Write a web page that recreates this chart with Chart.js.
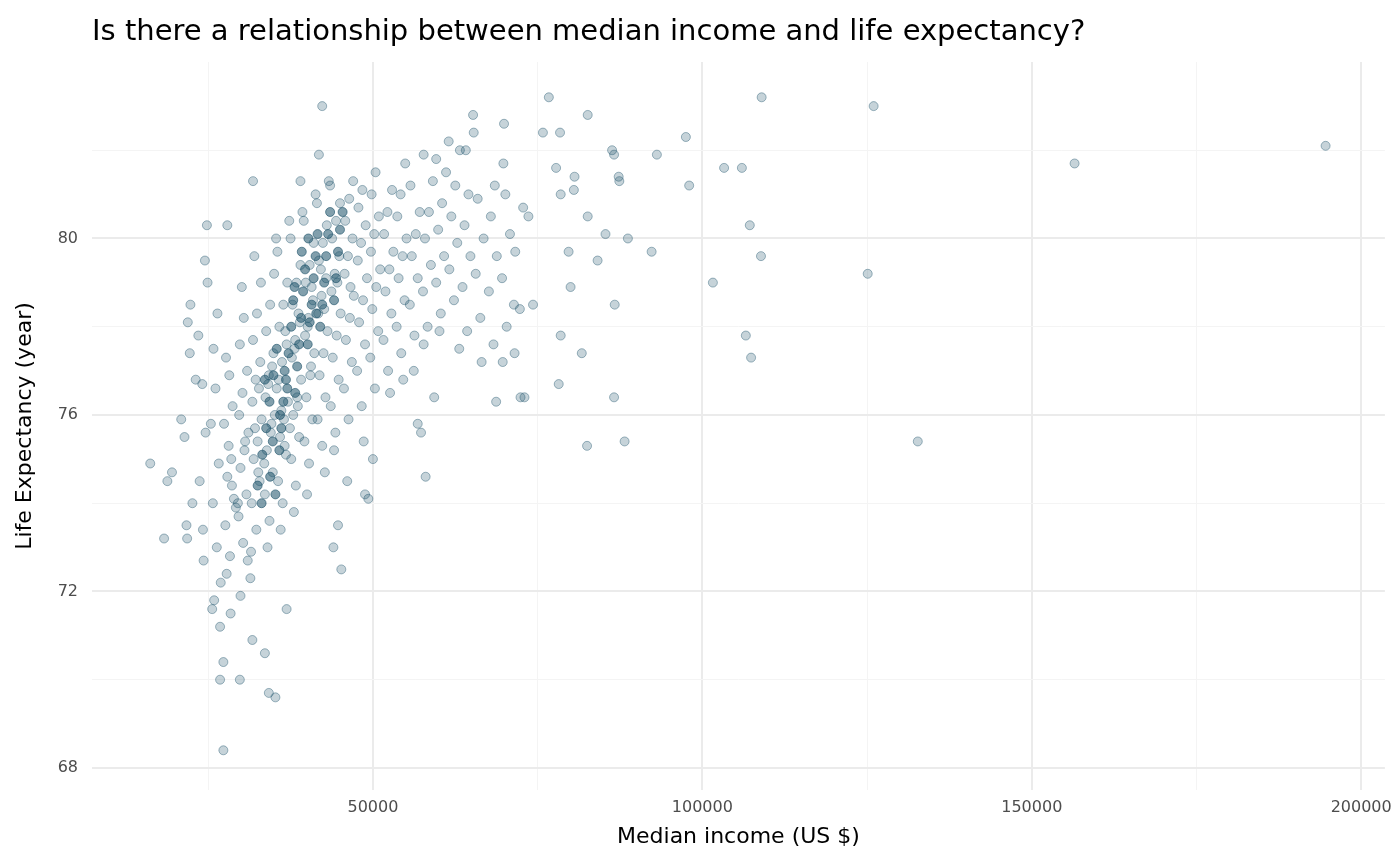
<!DOCTYPE html>
<html>
<head>
<meta charset="utf-8">
<script src="https://cdn.jsdelivr.net/npm/chart.js@4"></script>
<style>
  body { margin: 0; background: #fff; }
  #wrap { width: 1400px; height: 866px; }
</style>
</head>
<body>
<div id="wrap"><canvas id="c"></canvas></div>
<script>
// values: [median income, life expectancy]
var outlierPoints = [
  [194600, 82.1], [156500, 81.7], [126000, 83.0], [125100, 79.2], [132700, 75.4],
  [109000, 83.2], [108900, 79.6], [107200, 80.3], [106000, 81.6], [103300, 81.6],
  [106600, 77.8], [107400, 77.3], [101600, 79.0], [97500, 82.3], [98000, 81.2],
  [93100, 81.9], [92300, 79.7], [88700, 80.0], [88200, 75.4], [86600, 76.4],
  [86700, 78.5], [87300, 81.4], [87400, 81.3], [86300, 82.0], [86600, 81.9],
  [82600, 82.8], [76700, 83.2], [82500, 75.3], [81700, 77.4], [82600, 80.5],
  [84100, 79.5], [85300, 80.1], [78200, 76.7], [78500, 77.8], [80000, 78.9],
  [80600, 81.4], [80500, 81.1], [79700, 79.7], [78400, 82.4], [75800, 82.4],
  [77800, 81.6], [78500, 81.0], [69900, 82.6], [69800, 81.7], [69700, 77.2],
  [68700, 76.3], [73000, 76.4], [72400, 76.4], [71500, 77.4], [71400, 78.5],
  [65200, 82.8], [63200, 82.0], [65300, 82.4], [61500, 82.2], [58000, 74.6],
  [57300, 75.6], [56800, 75.8], [59300, 76.4], [57700, 81.9], [59600, 81.8]
];
var lowIncomePoints = [
  [16200, 74.9], [18300, 73.2], [19500, 74.7], [18800, 74.5], [21700, 73.5],
  [22200, 77.4], [20900, 75.9], [21900, 78.1], [24500, 79.5], [24800, 80.3],
  [26800, 70.0], [27300, 68.4], [27300, 70.4], [29800, 70.0], [34200, 69.7],
  [35200, 69.6], [36900, 71.6], [33600, 70.6], [31700, 70.9], [25900, 71.8],
  [26800, 71.2], [27900, 80.3], [31800, 81.3], [42300, 83.0], [41800, 81.9],
  [39000, 81.3], [45200, 72.5], [44000, 73.0], [48800, 74.2], [22600, 74.0],
  [21400, 75.5], [23100, 76.8], [22300, 78.5], [21800, 73.2], [24200, 73.4],
  [23700, 74.5], [24600, 75.6], [24100, 76.7], [23500, 77.8], [24900, 79.0],
  [24300, 72.7], [26300, 73.0], [25700, 74.0], [26600, 74.9], [25400, 75.8],
  [26100, 76.6], [25800, 77.5], [26400, 78.3], [26900, 72.2], [25600, 71.6]
];
var clusterPoints = [
  [28300, 72.8], [27600, 73.5], [28900, 74.1], [27900, 74.6], [28500, 75.0], [28100, 75.3],
  [27400, 75.8], [28700, 76.2], [28200, 76.9], [27700, 77.3], [29200, 73.9], [28600, 74.4],
  [27800, 72.4], [28400, 71.5],
  [30300, 73.1], [29600, 73.7], [30800, 74.2], [29900, 74.8], [30500, 75.2], [31100, 75.6],
  [29700, 76.0], [30200, 76.5], [30900, 77.0], [29800, 77.6], [30400, 78.2], [31000, 72.7],
  [29500, 74.0], [30600, 75.4], [30100, 78.9], [29900, 71.9],
  [32300, 73.4], [31600, 74.0], [32800, 74.5], [31900, 75.0], [32500, 75.4], [33100, 75.9],
  [31700, 76.3], [32200, 76.8], [32900, 77.2], [31800, 77.7], [32400, 78.3], [33000, 79.0],
  [31500, 72.9], [32600, 74.7], [32100, 75.7], [32700, 76.6], [32000, 79.6], [31400, 72.3],
  [34300, 73.6], [33600, 74.2], [34800, 74.7], [33900, 75.2], [34500, 75.6], [35100, 76.0],
  [33700, 76.4], [34200, 76.9], [34900, 77.4], [33800, 77.9], [34400, 78.5], [35000, 79.2],
  [33500, 74.9], [34600, 75.8], [34100, 76.7], [34700, 77.1], [34000, 73.0], [35300, 80.0],
  [36300, 74.0], [35600, 74.5], [36800, 75.1], [35900, 75.5], [36500, 75.9], [37100, 76.3],
  [35700, 76.8], [36200, 77.2], [36900, 77.6], [35800, 78.0], [36400, 78.5], [37000, 79.0],
  [35500, 79.7], [36600, 75.3], [36100, 76.1], [36700, 77.9], [36000, 73.4], [37300, 80.4],
  [35400, 76.6],
  [38300, 74.4], [37600, 75.0], [38800, 75.5], [37900, 76.0], [38500, 76.4], [39100, 76.8],
  [37700, 77.3], [38200, 77.7], [38900, 78.1], [37800, 78.5], [38400, 79.0], [39000, 79.4],
  [37500, 80.0], [38600, 76.2], [38100, 77.5], [38700, 78.3], [38000, 73.8], [39300, 80.6],
  [37400, 75.7],
  [40300, 74.9], [39600, 75.4], [40800, 75.9], [39900, 76.4], [40500, 76.9], [41100, 77.4],
  [39700, 77.8], [40200, 78.2], [40900, 78.6], [39800, 79.0], [40400, 79.4], [41000, 79.9],
  [39500, 80.4], [40600, 77.1], [40100, 78.0], [40700, 78.9], [40000, 74.2], [41300, 81.0],
  [42300, 75.3], [41600, 75.9], [42800, 76.4], [41900, 76.9], [42500, 77.4], [43100, 77.9],
  [41700, 78.3], [42200, 78.7], [42900, 79.1], [41800, 79.5], [42400, 79.9], [43000, 80.3],
  [41500, 80.8], [42600, 78.4], [42100, 79.3], [42700, 74.7], [43300, 81.3],
  [44300, 75.6], [43600, 76.2], [44800, 76.8], [43900, 77.3], [44500, 77.8], [45100, 78.3],
  [43700, 78.8], [44200, 79.2], [44900, 79.6], [43800, 80.0], [44400, 80.4], [45000, 80.8],
  [43500, 81.2], [44600, 79.0], [44100, 75.2], [44700, 73.5],
  [46300, 75.9], [45600, 76.6], [46800, 77.2], [45900, 77.7], [46500, 78.2], [47100, 78.7],
  [45700, 79.2], [46200, 79.6], [46900, 80.0], [45800, 80.4], [46400, 80.9], [47000, 81.3],
  [46600, 78.9], [46100, 74.5],
  [48300, 76.2], [47600, 77.0], [48800, 77.6], [47900, 78.1], [48500, 78.6], [49100, 79.1],
  [47700, 79.5], [48200, 79.9], [48900, 80.3], [47800, 80.7], [48400, 81.1], [48600, 75.4],
  [49300, 74.1],
  [50300, 76.6], [49600, 77.3], [50800, 77.9], [49900, 78.4], [50500, 78.9], [51100, 79.3],
  [49700, 79.7], [50200, 80.1], [50900, 80.5], [49800, 81.0], [50400, 81.5], [50000, 75.0],
  [52300, 77.0], [51600, 77.7], [52800, 78.3], [51900, 78.8], [52500, 79.3], [53100, 79.7],
  [51700, 80.1], [52200, 80.6], [52900, 81.1], [52600, 76.5],
  [54300, 77.4], [53600, 78.0], [54800, 78.6], [53900, 79.1], [54500, 79.6], [55100, 80.0],
  [53700, 80.5], [54200, 81.0], [54900, 81.7], [54600, 76.8],
  [56300, 77.8], [55600, 78.5], [56800, 79.1], [55900, 79.6], [56500, 80.1], [57100, 80.6],
  [55700, 81.2], [56200, 77.0],
  [58300, 78.0], [57600, 78.8], [58800, 79.4], [57900, 80.0], [58500, 80.6], [59100, 81.3],
  [57700, 77.6],
  [60300, 78.3], [59600, 79.0], [60800, 79.6], [59900, 80.2], [60500, 80.8], [61100, 81.5],
  [60100, 77.9],
  [62300, 78.6], [61600, 79.3], [62800, 79.9], [61900, 80.5], [62500, 81.2], [63100, 77.5],
  [64300, 77.9], [63600, 78.9], [64800, 79.6], [63900, 80.3], [64500, 81.0], [64100, 82.0],
  [66300, 78.2], [65600, 79.2], [66800, 80.0], [65900, 80.9], [66500, 77.2],
  [68300, 77.6], [67600, 78.8], [68800, 79.6], [67900, 80.5], [68500, 81.2],
  [70300, 78.0], [69600, 79.1], [70800, 80.1], [70100, 81.0],
  [72300, 78.4], [71600, 79.7], [72800, 80.7],
  [74300, 78.5], [73600, 80.5]
];
// the darkest part of the cloud, where markers overlap heavily
var corePoints = [
  [33200, 75.1], [33800, 75.7], [34300, 76.3], [34900, 76.9], [35400, 77.5], [35800, 75.2],
  [36100, 75.7], [36400, 76.3], [36800, 76.8], [37200, 77.4], [37600, 78.0], [37900, 78.6],
  [38200, 76.5], [38500, 77.1], [38800, 77.6], [39100, 78.2], [39400, 78.8], [39700, 79.3],
  [40100, 77.6], [40400, 78.1], [40700, 78.5], [41000, 79.1], [41300, 79.6], [41600, 80.1],
  [42000, 78.0], [42300, 78.5], [42600, 79.0], [42900, 79.6], [43200, 80.1], [43500, 80.6],
  [44100, 78.6], [44400, 79.1], [44700, 79.7], [45000, 80.2], [45400, 80.6], [32500, 74.4],
  [33100, 74.0], [34400, 74.6], [35200, 74.2], [35900, 76.0], [37000, 76.6], [38100, 78.9],
  [39200, 79.7], [40200, 80.0], [41400, 78.3], [36600, 77.0], [34800, 75.4], [33600, 76.8]
];
var xTickValues = [25000, 50000, 75000, 100000, 125000, 150000, 175000, 200000];
var yTickValues = [68, 70, 72, 74, 76, 78, 80, 82];
var chartTitle = 'Is there a relationship between median income and life expectancy?';

function toXY(list) { return list.map(function (p) { return { x: p[0], y: p[1] }; }); }

// ggplot-style title: left aligned with the plot panel
var panelTitle = {
  id: 'panelTitle',
  afterDraw: function (chart) {
    var ctx = chart.ctx;
    ctx.save();
    ctx.fillStyle = '#000';
    ctx.font = '29px "DejaVu Sans"';
    ctx.textBaseline = 'alphabetic';
    ctx.fillText(chartTitle, chart.chartArea.left, 40);
    ctx.restore();
  }
};

var tickFont = { family: 'DejaVu Sans', size: 16 };
var markStyle = { borderWidth: 1, pointRadius: 4.5 };
new Chart(document.getElementById('c'), {
  type: 'scatter',
  data: {
    datasets: [
      Object.assign({
        data: toXY(lowIncomePoints.concat(clusterPoints, outlierPoints)),
        backgroundColor: 'rgba(26,80,104,0.25)',
        borderColor: 'rgba(26,80,104,0.4)'
      }, markStyle),
      Object.assign({
        data: toXY(corePoints),
        backgroundColor: 'rgba(26,80,104,0.55)',
        borderColor: 'rgba(26,80,104,0.6)'
      }, markStyle)
    ]
  },
  plugins: [panelTitle],
  options: {
    responsive: true,
    maintainAspectRatio: false,
    animation: false,
    layout: { padding: { left: 8, right: 15, top: 62, bottom: 12 } },
    plugins: {
      legend: { display: false },
      tooltip: { enabled: false },
      title: { display: false }
    },
    scales: {
      x: {
        type: 'linear', min: 7360, max: 203600,
        afterBuildTicks: function (a) { a.ticks = xTickValues.map(function (v) { return { value: v }; }); },
        afterFit: function (a) { a.height = 64; },
        grid: {
          drawTicks: false,
          color: function (c) { return c.tick && c.tick.value % 50000 === 0 ? '#ebebeb' : '#f4f4f4'; },
          lineWidth: function (c) { return c.tick && c.tick.value % 50000 === 0 ? 2 : 1; }
        },
        border: { display: false },
        ticks: {
          color: '#4d4d4d', font: tickFont, padding: 8, maxRotation: 0,
          callback: function (v) { return v % 50000 === 0 ? String(v) : ''; }
        },
        title: { display: true, text: 'Median income (US $)', color: '#000',
          font: { family: 'DejaVu Sans', size: 22 }, padding: { top: 0 } }
      },
      y: {
        type: 'linear', min: 67.5, max: 84,
        afterBuildTicks: function (a) { a.ticks = yTickValues.map(function (v) { return { value: v }; }); },
        afterFit: function (a) { a.width = 84; },
        grid: {
          drawTicks: false,
          color: function (c) { return c.tick && c.tick.value % 4 === 0 ? '#ebebeb' : '#f4f4f4'; },
          lineWidth: function (c) { return c.tick && c.tick.value % 4 === 0 ? 2 : 1; }
        },
        border: { display: false },
        ticks: {
          color: '#4d4d4d', font: tickFont, padding: 14,
          callback: function (v) { return v % 4 === 0 ? String(v) : ''; }
        },
        title: { display: true, text: 'Life Expectancy (year)', color: '#000',
          font: { family: 'DejaVu Sans', size: 22 }, padding: { bottom: 4 } }
      }
    }
  }
});
</script>
</body>
</html>
